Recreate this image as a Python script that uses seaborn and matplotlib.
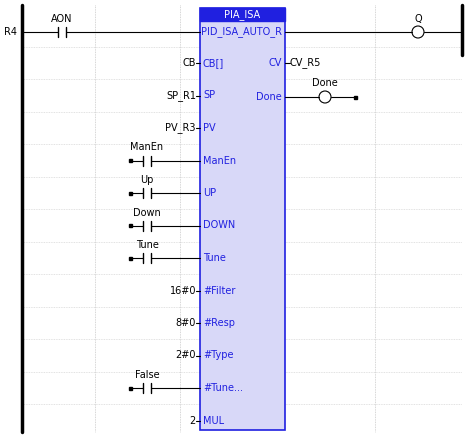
import matplotlib
matplotlib.use("Agg")
import matplotlib.pyplot as plt
import seaborn as sns
from matplotlib.patches import Rectangle, Circle

sns.set_style("white")
plt.rcParams['font.family'] = ['DejaVu Sans']
plt.rcParams['text.color'] = 'black'

block_name = "PIA_ISA"
block_type = "PID_ISA_AUTO_R"
rung_label = "R4"
enable_contact = "AON"
enable_coil = "Q"
in_pins = ["CB[]", "SP", "PV", "ManEn", "UP", "DOWN", "Tune", "#Filter", "#Resp", "#Type", "#Tune...", "MUL"]
in_sources = ["CB", "SP_R1", "PV_R3", "ManEn", "Up", "Down", "Tune", "16#0", "8#0", "2#0", "False", "2"]
in_is_contact = [False, False, False, True, True, True, True, False, False, False, True, False]
out_pins = ["CV", "Done"]
out_targets = ["CV_R5", "Done"]
out_is_coil = [False, True]

fig = plt.figure(figsize=(4.74, 4.41), dpi=100)
ax = fig.add_axes([0, 0, 1, 1])
ax.set_xlim(0, 474); ax.set_ylim(441, 0); ax.axis("off")

blue = "#2020e0"; fs = 7
y_top = 32; y0 = 63; dy = 32.5
bx0, bx1 = 200, 285

for x in [95, 180, 375]:
    ax.plot([x, x], [5, 432], color="#c8c8c8", lw=0.6, ls=(0, (1, 1)))
for i in range(len(in_pins)):
    y = y0 + i * dy - dy / 2
    ax.plot([22, 462], [y, y], color="#d8d8d8", lw=0.6, ls=(0, (1, 1)))
ax.plot([22, 22], [5, 432], color="black", lw=2.5)
ax.plot([462, 462], [5, 55], color="black", lw=2.5)
ax.text(4, y_top, rung_label, fontsize=fs, va="center")

ax.add_patch(Rectangle((bx0, 8), bx1 - bx0, 422, facecolor="#d8d8f8", edgecolor=blue, lw=1.2, zorder=2))
ax.add_patch(Rectangle((bx0, 8), bx1 - bx0, 13, facecolor=blue, edgecolor=blue, zorder=3))
ax.text((bx0 + bx1) / 2, 14.5, block_name, color="white", fontsize=fs, ha="center", va="center", zorder=4)
ax.text(bx0 + 1, y_top, block_type, color=blue, fontsize=fs, ha="left", va="center", zorder=4)

def contact(x, y, label):
    ax.plot([x, x], [y - 5, y + 5], color="black", lw=1)
    ax.plot([x + 8, x + 8], [y - 5, y + 5], color="black", lw=1)
    ax.text(x + 4, y - 13, label, fontsize=fs, ha="center", va="center")

ax.plot([22, 58], [y_top, y_top], color="black", lw=0.8)
ax.plot([66, bx0], [y_top, y_top], color="black", lw=0.8)
contact(58, y_top, enable_contact)
ax.plot([bx1, 412], [y_top, y_top], color="black", lw=0.8)
ax.add_patch(Circle((418, y_top), 6, fill=False, ec="black", lw=0.8))
ax.plot([424, 462], [y_top, y_top], color="black", lw=0.8)
ax.text(418, y_top - 13, enable_coil, fontsize=fs, ha="center", va="center")

for i, (pin, src, isc) in enumerate(zip(in_pins, in_sources, in_is_contact)):
    y = y0 + i * dy
    ax.text(bx0 + 3, y, pin, color=blue, fontsize=fs, ha="left", va="center", zorder=4)
    if isc:
        ax.plot([131, 143], [y, y], color="black", lw=0.8)
        ax.plot([151, bx0], [y, y], color="black", lw=0.8)
        ax.add_patch(Rectangle((129, y - 1.5), 3, 3, color="black"))
        contact(143, y, src)
    else:
        ax.text(bx0 - 4, y, src, fontsize=fs, ha="right", va="center")
        ax.plot([bx0 - 4, bx0], [y, y], color="black", lw=0.8)

for i, (pin, tgt, isc) in enumerate(zip(out_pins, out_targets, out_is_coil)):
    y = y0 + i * 34
    ax.text(bx1 - 3, y, pin, color=blue, fontsize=fs, ha="right", va="center", zorder=4)
    if isc:
        ax.plot([bx1, 319], [y, y], color="black", lw=0.8)
        ax.add_patch(Circle((325, y), 6, fill=False, ec="black", lw=0.8))
        ax.plot([331, 355], [y, y], color="black", lw=0.8)
        ax.add_patch(Rectangle((354, y - 1.5), 3, 3, color="black"))
        ax.text(325, y - 14, tgt, fontsize=fs, ha="center", va="center")
    else:
        ax.plot([bx1, bx1 + 5], [y, y], color="black", lw=0.8)
        ax.text(bx1 + 5, y, tgt, fontsize=fs, ha="left", va="center")

fig.savefig("out.png", dpi=100)
